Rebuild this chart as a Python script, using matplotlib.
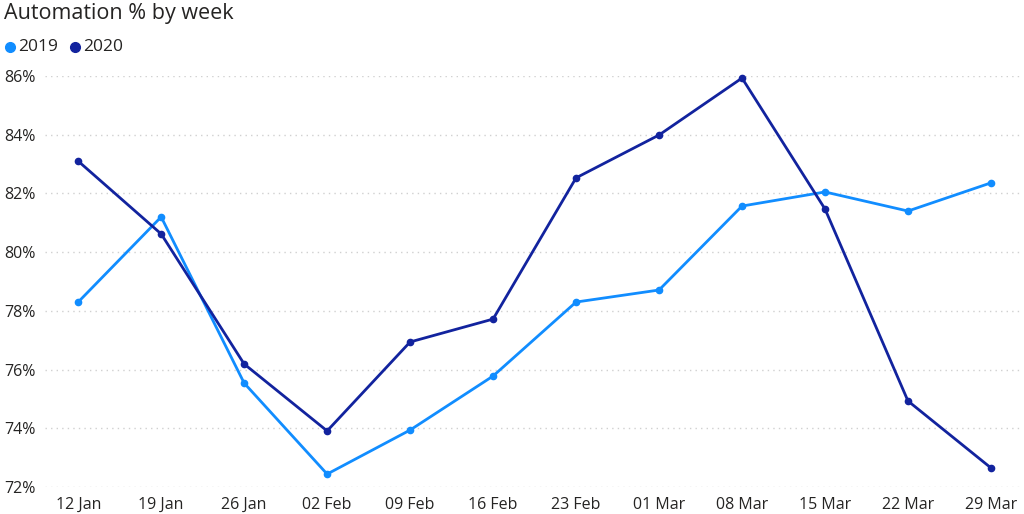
import matplotlib
matplotlib.use("Agg")
import matplotlib.pyplot as plt
from matplotlib.ticker import FuncFormatter

weeks = ["12 Jan", "19 Jan", "26 Jan", "02 Feb", "09 Feb", "16 Feb",
         "23 Feb", "01 Mar", "08 Mar", "15 Mar", "22 Mar", "29 Mar"]
auto_2019 = [78.30, 81.20, 75.54, 72.44, 73.94, 75.78, 78.30, 78.71, 81.57, 82.05, 81.40, 82.36]
auto_2020 = [83.10, 80.62, 76.19, 73.91, 76.94, 77.72, 82.53, 83.99, 85.93, 81.47, 74.93, 72.65]
yticks = [72, 74, 76, 78, 80, 82, 84, 86]

c2019 = "#118DFF"
c2020 = "#12239E"

plt.rcParams['font.family'] = ['Open Sans', 'DejaVu Sans']

fig = plt.figure(figsize=(10.24, 5.14), dpi=100)
ax = fig.add_axes([45/1024, 1-487/514, (1020-45)/1024, (487-76)/514])

x = list(range(len(weeks)))
ax.plot(x, auto_2019, color=c2019, lw=2, marker="o", ms=4.5, clip_on=False, zorder=3)
ax.plot(x, auto_2020, color=c2020, lw=2, marker="o", ms=4.5, clip_on=False, zorder=3)

ax.set_ylim(72, 86)
ax.set_xlim(-0.4, 11.35)
ax.set_yticks(yticks)
ax.yaxis.set_major_formatter(FuncFormatter(lambda v, p: f"{v:.0f}%"))
ax.set_xticks(x)
ax.set_xticklabels(weeks)
ax.tick_params(axis="both", length=0, labelsize=11.5, colors="#252423")
ax.tick_params(axis="x", pad=7)
ax.tick_params(axis="y", pad=7)
for s in ax.spines.values():
    s.set_visible(False)
ax.grid(axis="y", color="#D0D0D0", linestyle=(0, (1, 3)), lw=1)
ax.set_axisbelow(True)

fig.text(4/1024, 1-14/514, "Automation % by week", fontsize=15.5, color="#252423",
         va="center", ha="left")
# legend
fig.lines.append(plt.Line2D([10/1024], [1-47/514], marker="o", ms=7, color=c2019,
                            transform=fig.transFigure, lw=0))
fig.text(18/1024, 1-47/514, "2019", fontsize=12.5, color="#252423", va="center", ha="left")
fig.lines.append(plt.Line2D([75/1024], [1-47/514], marker="o", ms=7, color=c2020,
                            transform=fig.transFigure, lw=0))
fig.text(83/1024, 1-47/514, "2020", fontsize=12.5, color="#252423", va="center", ha="left")

fig.savefig("out.png", dpi=100)
